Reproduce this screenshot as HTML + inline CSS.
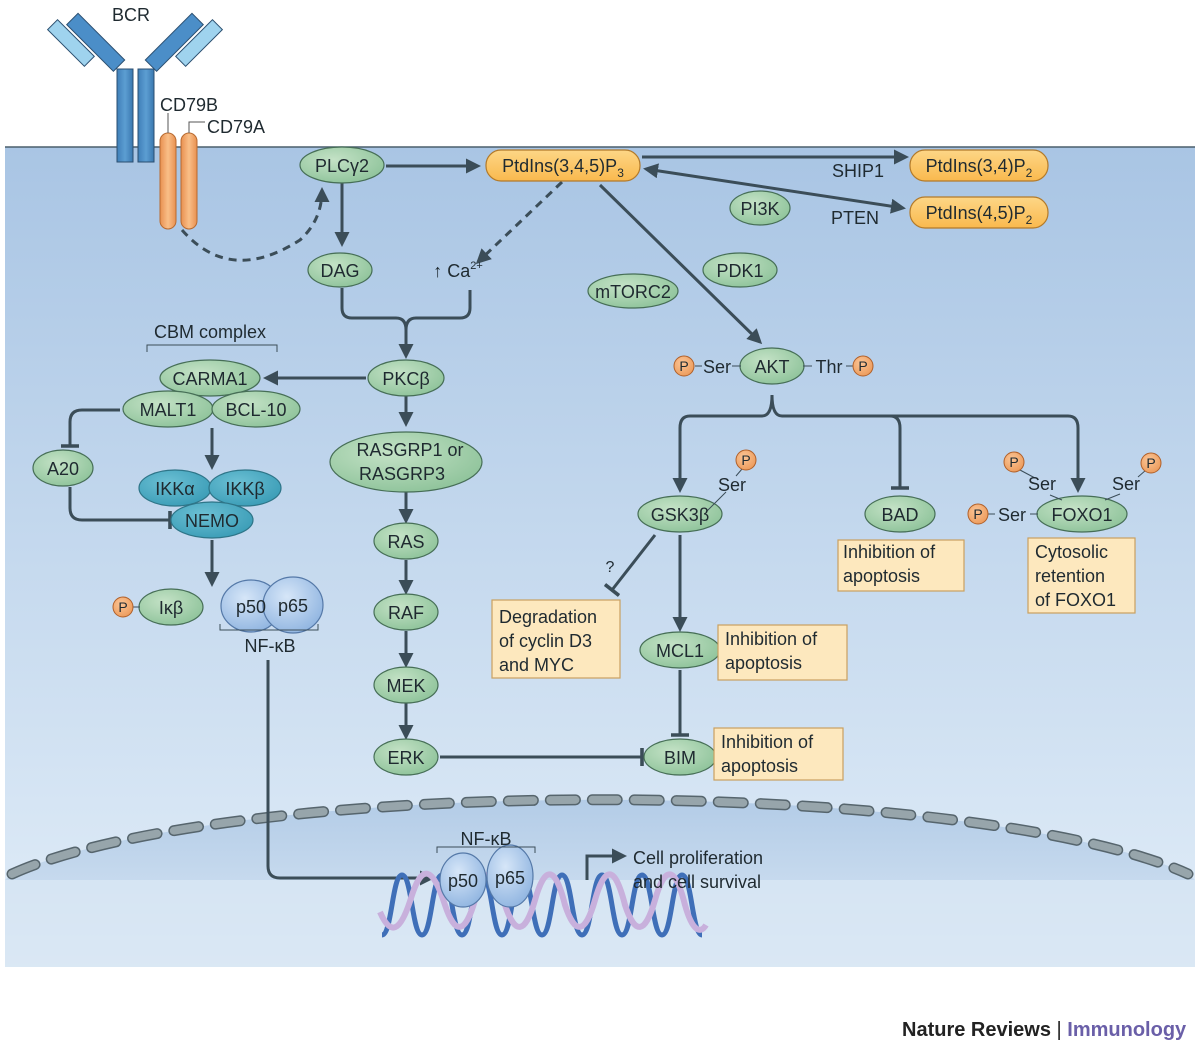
<!DOCTYPE html>
<html><head><meta charset="utf-8"><style>
html,body{margin:0;padding:0;background:#fff}
svg{display:block}
text{font-family:"Liberation Sans",sans-serif;fill:#1f2a30}
</style></head><body>
<svg width="1200" height="1046" viewBox="0 0 1200 1046" xmlns="http://www.w3.org/2000/svg">
<defs>
<linearGradient id="cell" x1="0" y1="0" x2="0" y2="1"><stop offset="0" stop-color="#a9c5e4"/><stop offset="1" stop-color="#e1edf8"/></linearGradient>
<linearGradient id="nuc" x1="0" y1="0" x2="0" y2="1"><stop offset="0" stop-color="#b3cce7"/><stop offset="1" stop-color="#dbe8f5"/></linearGradient>
<radialGradient id="gr" cx="0.4" cy="0.35" r="0.7"><stop offset="0" stop-color="#c4e2c6"/><stop offset="1" stop-color="#8ec39a"/></radialGradient>
<radialGradient id="bl" cx="0.4" cy="0.35" r="0.7"><stop offset="0" stop-color="#6cc0d4"/><stop offset="1" stop-color="#3a9cb6"/></radialGradient>
<radialGradient id="sp" cx="0.4" cy="0.35" r="0.7"><stop offset="0" stop-color="#d6e6f8"/><stop offset="1" stop-color="#8fb4e0"/></radialGradient>
<radialGradient id="pp" cx="0.4" cy="0.35" r="0.7"><stop offset="0" stop-color="#fbc596"/><stop offset="1" stop-color="#ec9a5a"/></radialGradient>
<linearGradient id="yl" x1="0" y1="0" x2="0" y2="1"><stop offset="0" stop-color="#fdd686"/><stop offset="1" stop-color="#f9b94e"/></linearGradient>
<linearGradient id="or" x1="0" y1="0" x2="1" y2="0"><stop offset="0" stop-color="#e89050"/><stop offset="0.5" stop-color="#f9bf88"/><stop offset="1" stop-color="#e89050"/></linearGradient>
<linearGradient id="bb" x1="0" y1="0" x2="1" y2="0"><stop offset="0" stop-color="#3f7fb8"/><stop offset="0.5" stop-color="#5c9ed2"/><stop offset="1" stop-color="#3a78b0"/></linearGradient>
<marker id="ar" viewBox="0 0 10 10" refX="8" refY="5" markerWidth="5" markerHeight="5" orient="auto-start-reverse"><path d="M0,0 L10,5 L0,10 z" fill="#3b4d58"/></marker>
<marker id="tb" viewBox="0 0 10 10" refX="5" refY="5" markerWidth="6" markerHeight="6" orient="auto"><path d="M4,0 L6,0 L6,10 L4,10z" fill="#3b4d58"/></marker>
</defs>

<rect x="5" y="147" width="1190" height="820" fill="url(#cell)"/>
<line x1="5" y1="147" x2="1195" y2="147" stroke="#4a5f6c" stroke-width="1.5"/>
<path d="M5,880 L10,875 A636 120 0 0 1 1190 875 L1195,880 L1195,967 L5,967z" fill="url(#nuc)"/>
<rect x="5" y="880" width="1190" height="87" fill="#d9e7f4" opacity="0.8"/>
<path d="M12,874 A636 120 0 0 1 1188 874" fill="none" stroke="#56656d" stroke-width="11" stroke-dasharray="25 17" stroke-linecap="round"/>
<path d="M12,874 A636 120 0 0 1 1188 874" fill="none" stroke="#97a5ab" stroke-width="8" stroke-dasharray="25 17" stroke-linecap="round"/>

<!-- BCR -->
<g stroke="#2b4f70" stroke-width="1">
<rect x="117" y="69" width="16" height="93" fill="url(#bb)"/>
<rect x="138" y="69" width="16" height="93" fill="url(#bb)"/>
<g transform="translate(95,43) rotate(45)"><rect x="-33" y="-9" width="66" height="16" fill="#4b8ec8"/><rect x="-43" y="10" width="52" height="14" fill="#9fd3ee"/></g>
<g transform="translate(175,43) rotate(-45)"><rect x="-33" y="-9" width="66" height="16" fill="#4b8ec8"/><rect x="-9" y="10" width="52" height="14" fill="#9fd3ee"/></g>
<rect x="160" y="133" width="16" height="96" rx="8" fill="url(#or)" stroke="#b86a30"/>
<rect x="181" y="133" width="16" height="96" rx="8" fill="url(#or)" stroke="#b86a30"/>
</g>
<text x="112" y="21" font-size="18">BCR</text>
<text x="160" y="111" font-size="18">CD79B</text>
<text x="207" y="133" font-size="18">CD79A</text>
<path d="M168,133 V113 M189,133 V122 H205" stroke="#555" stroke-width="1" fill="none"/>

<!-- connectors -->
<g stroke="#3b4d58" stroke-width="3" fill="none">
<path d="M182,230 Q230,285 300,240 Q322,220 322,190" stroke-dasharray="8 6" marker-end="url(#ar)"/>
<path d="M386,166 H478" marker-end="url(#ar)"/>
<path d="M342,183 V244" marker-end="url(#ar)"/>
<path d="M562,182 L478,262" stroke-dasharray="8 6" marker-end="url(#ar)"/>
<path d="M342,288 V308 Q342,318 352,318 H396 Q406,318 406,330 Q406,318 416,318 H460 Q470,318 470,308 V290"/>
<path d="M406,330 V356" marker-end="url(#ar)"/>
<path d="M366,378 H266" marker-end="url(#ar)"/>
<path d="M406,396 V424" marker-end="url(#ar)"/>
<path d="M406,492 V521" marker-end="url(#ar)"/>
<path d="M406,560 V592" marker-end="url(#ar)"/>
<path d="M406,631 V665" marker-end="url(#ar)"/>
<path d="M406,703 V737" marker-end="url(#ar)"/>
<path d="M440,757 H642" marker-end="url(#tb)"/>
<path d="M120,410 H82 Q70,410 70,422 V446" marker-end="url(#tb)"/>
<path d="M70,487 V508 Q70,520 82,520 H170" marker-end="url(#tb)"/>
<path d="M212,428 V467" marker-end="url(#ar)"/>
<path d="M212,540 V584" marker-end="url(#ar)"/>
<path d="M268,660 V866 Q268,878 280,878 H432" marker-end="url(#ar)"/>
<path d="M642,157 H906" marker-end="url(#ar)"/>
<path d="M903,208 L646,169" marker-start="url(#ar)" marker-end="url(#ar)"/>
<path d="M600,185 L760,342" marker-end="url(#ar)"/>
<path d="M772,395 Q772,416 762,416 H690 Q680,416 680,428 V490" marker-end="url(#ar)"/>
<path d="M772,395 Q772,416 782,416 H890 Q900,416 900,428 V488" marker-end="url(#tb)"/>
<path d="M890,416 H1068 Q1078,416 1078,428 V490" marker-end="url(#ar)"/>
<path d="M655,535 L612,590" marker-end="url(#tb)"/>
<path d="M680,535 V629" marker-end="url(#ar)"/>
<path d="M680,670 V735" marker-end="url(#tb)"/>
</g>

<!-- DNA -->
<g fill="none">
<path d="M382,935 C392,935 392,875 402,875 C412,875 412,935 422,935 C432,935 432,875 442,875 C452,875 452,935 462,935 C472,935 472,875 482,875 C492,875 492,935 502,935 C512,935 512,875 522,875 C532,875 532,935 542,935 C552,935 552,875 562,875 C572,875 572,935 582,935 C592,935 592,875 602,875 C612,875 612,935 622,935 C632,935 632,875 642,875 C652,875 652,935 662,935 C672,935 672,875 682,875 C692,875 692,935 702,935" stroke="#3f6fb8" stroke-width="5"/>
<path d="M380,912 C390,935 400,935 412,895 C422,865 432,865 445,905 C455,935 465,935 475,900 C485,865 495,865 505,905 C515,935 525,935 535,900 C545,865 555,865 565,905 C575,935 585,935 595,900 C605,865 615,865 625,905 C635,935 645,935 655,900 C665,865 675,865 685,905 C692,930 700,935 706,925" stroke="#c8b0dc" stroke-width="6"/>
</g>
<g stroke="#5579a8" stroke-width="1.2" fill="url(#sp)">
<ellipse cx="463" cy="880" rx="23" ry="27"/>
<ellipse cx="510" cy="876" rx="23" ry="31"/>
</g>
<path d="M587,880 V856 H624" stroke="#3b4d58" stroke-width="3" fill="none" marker-end="url(#ar)"/>

<!-- nodes -->
<g stroke="#466e56" stroke-width="1.2" fill="url(#gr)">
<ellipse cx="342" cy="165" rx="42" ry="18"/>
<ellipse cx="340" cy="270" rx="32" ry="17"/>
<ellipse cx="760" cy="208" rx="30" ry="17"/>
<ellipse cx="740" cy="270" rx="37" ry="17"/>
<ellipse cx="633" cy="291" rx="45" ry="17"/>
<ellipse cx="406" cy="378" rx="38" ry="18"/>
<ellipse cx="210" cy="378" rx="50" ry="18"/>
<ellipse cx="168" cy="409" rx="45" ry="18"/>
<ellipse cx="256" cy="409" rx="44" ry="18"/>
<ellipse cx="63" cy="468" rx="30" ry="18"/>
<ellipse cx="171" cy="607" rx="32" ry="18"/>
<ellipse cx="406" cy="462" rx="76" ry="30"/>
<ellipse cx="406" cy="541" rx="32" ry="18"/>
<ellipse cx="406" cy="612" rx="32" ry="18"/>
<ellipse cx="406" cy="685" rx="32" ry="18"/>
<ellipse cx="406" cy="757" rx="32" ry="18"/>
<ellipse cx="772" cy="366" rx="32" ry="18"/>
<ellipse cx="680" cy="514" rx="42" ry="18"/>
<ellipse cx="900" cy="514" rx="35" ry="18"/>
<ellipse cx="1082" cy="514" rx="45" ry="18"/>
<ellipse cx="680" cy="650" rx="40" ry="18"/>
<ellipse cx="680" cy="757" rx="36" ry="18"/>
</g>
<g stroke="#2e7588" stroke-width="1.2" fill="url(#bl)">
<ellipse cx="175" cy="488" rx="36" ry="18"/>
<ellipse cx="245" cy="488" rx="36" ry="18"/>
<ellipse cx="212" cy="520" rx="41" ry="18"/>
</g>
<g stroke="#5579a8" stroke-width="1.2" fill="url(#sp)">
<ellipse cx="251" cy="606" rx="30" ry="26"/>
<ellipse cx="293" cy="605" rx="30" ry="28"/>
</g>
<g stroke="#b27a2a" stroke-width="1.2" fill="url(#yl)">
<rect x="486" y="150" width="154" height="31" rx="15"/>
<rect x="910" y="150" width="138" height="31" rx="15"/>
<rect x="910" y="197" width="138" height="31" rx="15"/>
</g>
<g stroke="#c9a060" stroke-width="1.2" fill="#fde8be">
<rect x="838" y="540" width="126" height="51"/>
<rect x="1028" y="538" width="107" height="75"/>
<rect x="492" y="600" width="128" height="78"/>
<rect x="718" y="625" width="129" height="55"/>
<rect x="714" y="728" width="129" height="52"/>
</g>
<g stroke="#3b4d58" stroke-width="1" fill="none">
<path d="M147,352 V345 H277 V352"/>
<path d="M220,624 V630 H318 V624"/>
<path d="M437,853 V847 H535 V853"/>
<path d="M695,366 H702 M732,366 H741 M803,366 H812 M846,366 H853"/>
<path d="M706,512 L726,492 M742,469 L736,476"/>
<path d="M1020,470 L1035,478 M1050,495 L1062,500 M1120,494 L1105,500 M1146,470 L1138,477 M988,514 H995 M1030,514 H1038"/>
<path d="M132,607 H140"/>
</g>
<g stroke="#b0602a" stroke-width="1" fill="url(#pp)">
<circle cx="684" cy="366" r="10"/><circle cx="863" cy="366" r="10"/>
<circle cx="746" cy="460" r="10"/><circle cx="1014" cy="462" r="10"/><circle cx="1151" cy="463" r="10"/>
<circle cx="978" cy="514" r="10"/><circle cx="123" cy="607" r="10"/>
</g>

<!-- labels -->
<g font-size="18" text-anchor="middle">
<text x="342" y="172">PLCγ2</text>
<text x="340" y="277">DAG</text>
<text x="458" y="277">↑ Ca<tspan font-size="11" dy="-8">2+</tspan></text>
<text x="563" y="172">PtdIns(3,4,5)P<tspan font-size="12" dy="5">3</tspan></text>
<text x="979" y="172">PtdIns(3,4)P<tspan font-size="12" dy="5">2</tspan></text>
<text x="979" y="219">PtdIns(4,5)P<tspan font-size="12" dy="5">2</tspan></text>
<text x="858" y="177">SHIP1</text>
<text x="855" y="224">PTEN</text>
<text x="760" y="215">PI3K</text>
<text x="740" y="277">PDK1</text>
<text x="633" y="298">mTORC2</text>
<text x="210" y="338">CBM complex</text>
<text x="406" y="385">PKCβ</text>
<text x="210" y="385">CARMA1</text>
<text x="168" y="416">MALT1</text>
<text x="256" y="416">BCL-10</text>
<text x="63" y="475">A20</text>
<text x="175" y="495">IKKα</text>
<text x="245" y="495">IKKβ</text>
<text x="212" y="527">NEMO</text>
<text x="171" y="614">Iκβ</text>
<text x="251" y="613">p50</text>
<text x="293" y="612">p65</text>
<text x="270" y="652">NF-κB</text>
<text x="410" y="456">RASGRP1 or</text>
<text x="402" y="480">RASGRP3</text>
<text x="406" y="548">RAS</text>
<text x="406" y="619">RAF</text>
<text x="406" y="692">MEK</text>
<text x="406" y="764">ERK</text>
<text x="772" y="373">AKT</text>
<text x="717" y="373">Ser</text>
<text x="829" y="373">Thr</text>
<text x="732" y="491">Ser</text>
<text x="680" y="521">GSK3β</text>
<text x="900" y="521">BAD</text>
<text x="1082" y="521">FOXO1</text>
<text x="1042" y="490">Ser</text>
<text x="1126" y="490">Ser</text>
<text x="1012" y="521">Ser</text>
<text x="680" y="657">MCL1</text>
<text x="680" y="764">BIM</text>
<text x="610" y="572" font-size="16">?</text>
<text x="486" y="845">NF-κB</text>
<text x="463" y="887">p50</text>
<text x="510" y="884">p65</text>
</g>
<g font-size="14" text-anchor="middle">
<text x="684" y="371">P</text><text x="863" y="371">P</text>
<text x="746" y="465">P</text><text x="1014" y="467">P</text>
<text x="1151" y="468">P</text><text x="978" y="519">P</text>
<text x="123" y="612">P</text>
</g>
<g font-size="18">
<text x="843" y="558">Inhibition of</text><text x="843" y="582">apoptosis</text>
<text x="1035" y="558">Cytosolic</text><text x="1035" y="582">retention</text><text x="1035" y="606">of FOXO1</text>
<text x="499" y="623">Degradation</text><text x="499" y="647">of cyclin D3</text><text x="499" y="671">and MYC</text>
<text x="725" y="645">Inhibition of</text><text x="725" y="669">apoptosis</text>
<text x="721" y="748">Inhibition of</text><text x="721" y="772">apoptosis</text>
<text x="633" y="864">Cell proliferation</text>
<text x="633" y="888">and cell survival</text>
</g>
<text x="902" y="1036" font-size="20" font-weight="bold" style="fill:#222">Nature Reviews <tspan font-weight="normal">|</tspan> <tspan style="fill:#6a5fa8" font-weight="bold">Immunology</tspan></text>
</svg>
</body></html>
